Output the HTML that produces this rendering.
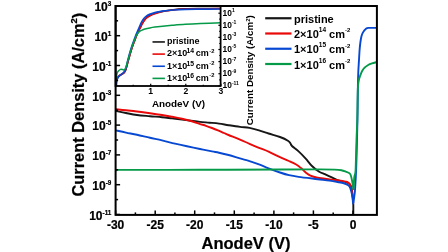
<!DOCTYPE html>
<html><head><meta charset="utf-8"><title>Current Density vs AnodeV</title>
<style>html,body{margin:0;padding:0;background:#fff;}body{width:448px;height:252px;overflow:hidden;}svg{display:block;}</style>
</head><body>
<svg width="448" height="252" viewBox="0 0 448 252" font-family='"Liberation Sans", Arial, sans-serif' fill="#000"><style>.b{stroke:#000;stroke-width:0.22px;}</style><rect x="0" y="0" width="448" height="252" fill="#fff"/>
<defs><clipPath id="cm"><rect x="115.6" y="6.0" width="261.29999999999995" height="208.9"/></clipPath><clipPath id="ci"><rect x="115.6" y="5.9" width="105.0" height="80.1"/></clipPath></defs>
<g clip-path="url(#cm)">
<path d="M116.00,110.90 C117.67,111.25 122.50,112.32 126.00,113.00 C129.50,113.68 133.00,114.47 137.00,115.00 C141.00,115.53 145.83,115.83 150.00,116.20 C154.17,116.57 158.33,116.83 162.00,117.20 C165.67,117.57 168.67,118.00 172.00,118.40 C175.33,118.80 178.83,119.20 182.00,119.60 C185.17,120.00 188.00,120.42 191.00,120.80 C194.00,121.18 196.92,121.58 200.00,121.90 C203.08,122.22 206.33,122.42 209.50,122.70 C212.67,122.98 215.82,123.18 219.00,123.60 C222.18,124.02 225.10,124.65 228.60,125.20 C232.10,125.75 236.52,126.45 240.00,126.90 C243.48,127.35 246.33,127.33 249.50,127.90 C252.67,128.47 255.82,129.37 259.00,130.30 C262.18,131.23 265.10,132.38 268.60,133.50 C272.10,134.62 276.78,135.80 280.00,137.00 C283.22,138.20 286.15,139.62 287.90,140.70 C289.65,141.78 289.82,142.62 290.50,143.50 C291.18,144.38 290.65,144.68 292.00,146.00 C293.35,147.32 296.32,149.30 298.60,151.40 C300.88,153.50 303.52,156.22 305.70,158.60 C307.88,160.98 309.52,163.55 311.70,165.70 C313.88,167.85 316.62,170.08 318.80,171.50 C320.98,172.92 323.02,173.38 324.80,174.20 C326.58,175.02 327.92,175.67 329.50,176.40 C331.08,177.13 332.72,177.88 334.30,178.60 C335.88,179.32 337.05,180.12 339.00,180.70 C340.95,181.28 344.25,181.55 346.00,182.10 C347.75,182.65 348.58,183.02 349.50,184.00 C350.42,184.98 350.95,185.83 351.50,188.00 C352.05,190.17 352.50,194.33 352.80,197.00 C353.10,199.67 353.22,200.50 353.30,204.00 C353.38,207.50 353.30,215.67 353.30,218.00" fill="none" stroke="#161616" stroke-width="1.9" stroke-linejoin="round" stroke-linecap="round"/>
<path d="M116.00,109.30 C117.67,109.47 122.50,109.93 126.00,110.30 C129.50,110.67 133.00,111.02 137.00,111.50 C141.00,111.98 145.83,112.62 150.00,113.20 C154.17,113.78 158.33,114.40 162.00,115.00 C165.67,115.60 168.67,116.17 172.00,116.80 C175.33,117.43 178.83,118.10 182.00,118.80 C185.17,119.50 188.08,120.17 191.00,121.00 C193.92,121.83 197.00,123.00 199.50,123.80 C202.00,124.60 203.92,125.10 206.00,125.80 C208.08,126.50 210.00,127.23 212.00,128.00 C214.00,128.77 216.00,129.57 218.00,130.40 C220.00,131.23 222.23,132.23 224.00,133.00 C225.77,133.77 225.93,133.90 228.60,135.00 C231.27,136.10 236.52,138.13 240.00,139.60 C243.48,141.07 246.33,142.43 249.50,143.80 C252.67,145.17 255.82,146.48 259.00,147.80 C262.18,149.12 265.10,150.13 268.60,151.70 C272.10,153.27 276.60,155.65 280.00,157.20 C283.40,158.75 286.30,159.78 289.00,161.00 C291.70,162.22 294.20,163.32 296.20,164.50 C298.20,165.68 299.42,166.78 301.00,168.10 C302.58,169.42 304.12,171.13 305.70,172.40 C307.28,173.67 308.52,174.80 310.50,175.70 C312.48,176.60 314.43,177.18 317.60,177.80 C320.77,178.42 325.93,178.95 329.50,179.40 C333.07,179.85 336.75,180.20 339.00,180.50 C341.25,180.80 341.65,180.95 343.00,181.20 C344.35,181.45 346.02,181.57 347.10,182.00 C348.18,182.43 348.80,182.80 349.50,183.80 C350.20,184.80 350.80,185.97 351.30,188.00 C351.80,190.03 352.18,193.50 352.50,196.00 C352.82,198.50 353.08,201.83 353.20,203.00" fill="none" stroke="#ea0808" stroke-width="1.9" stroke-linejoin="round" stroke-linecap="round"/>
<path d="M116.00,130.40 C117.67,130.77 122.50,131.87 126.00,132.60 C129.50,133.33 133.00,133.93 137.00,134.80 C141.00,135.67 145.83,136.87 150.00,137.80 C154.17,138.73 157.83,139.43 162.00,140.40 C166.17,141.37 170.83,142.62 175.00,143.60 C179.17,144.58 182.83,145.40 187.00,146.30 C191.17,147.20 195.83,148.15 200.00,149.00 C204.17,149.85 208.83,150.78 212.00,151.40 C215.17,152.02 216.23,152.10 219.00,152.70 C221.77,153.30 225.10,154.05 228.60,155.00 C232.10,155.95 236.52,157.38 240.00,158.40 C243.48,159.42 246.33,160.12 249.50,161.10 C252.67,162.08 255.82,163.10 259.00,164.30 C262.18,165.50 265.10,166.93 268.60,168.30 C272.10,169.67 276.60,171.35 280.00,172.50 C283.40,173.65 285.90,174.47 289.00,175.20 C292.10,175.93 293.83,176.23 298.60,176.90 C303.37,177.57 312.45,178.58 317.60,179.20 C322.75,179.82 325.93,180.10 329.50,180.60 C333.07,181.10 336.75,181.80 339.00,182.20 C341.25,182.60 341.65,182.60 343.00,183.00 C344.35,183.40 346.02,184.00 347.10,184.60 C348.18,185.20 348.80,185.47 349.50,186.60 C350.20,187.73 350.80,189.60 351.30,191.40 C351.80,193.20 352.18,195.38 352.50,197.40 C352.82,199.42 352.92,203.57 353.20,203.50 C353.48,203.43 353.92,199.02 354.20,197.00 C354.48,194.98 354.68,193.92 354.90,191.40 C355.12,188.88 355.28,185.80 355.50,181.90 C355.72,178.00 355.95,174.98 356.20,168.00 C356.45,161.02 356.77,149.67 357.00,140.00 C357.23,130.33 357.45,119.17 357.60,110.00 C357.75,100.83 357.78,91.33 357.90,85.00 C358.02,78.67 358.13,75.93 358.30,72.00 C358.47,68.07 358.68,65.07 358.90,61.40 C359.12,57.73 359.37,53.07 359.60,50.00 C359.83,46.93 360.00,45.25 360.30,43.00 C360.60,40.75 360.95,38.27 361.40,36.50 C361.85,34.73 362.27,33.67 363.00,32.40 C363.73,31.13 364.87,29.65 365.80,28.90 C366.73,28.15 366.73,28.07 368.60,27.90 C370.47,27.73 375.60,27.90 377.00,27.90" fill="none" stroke="#0748d2" stroke-width="1.9" stroke-linejoin="round" stroke-linecap="round"/>
<path d="M116.20,170.30 C116.50,170.23 104.03,169.98 118.00,169.90 C131.97,169.82 173.00,169.87 200.00,169.80 C227.00,169.73 260.00,169.57 280.00,169.50 C300.00,169.43 310.95,169.38 320.00,169.40 C329.05,169.42 330.73,169.47 334.30,169.60 C337.87,169.73 339.42,169.83 341.40,170.20 C343.38,170.57 344.93,171.33 346.20,171.80 C347.47,172.27 348.30,172.57 349.00,173.00 C349.70,173.43 350.02,173.72 350.40,174.40 C350.78,175.08 350.95,175.65 351.30,177.10 C351.65,178.55 352.17,181.12 352.50,183.10 C352.83,185.08 353.08,188.68 353.30,189.00 C353.52,189.32 353.63,186.98 353.80,185.00 C353.97,183.02 354.07,179.00 354.30,177.10 C354.53,175.20 354.97,175.12 355.20,173.60 C355.43,172.08 355.48,173.60 355.70,168.00 C355.92,162.40 356.23,148.00 356.50,140.00 C356.77,132.00 357.12,126.67 357.30,120.00 C357.48,113.33 357.50,105.33 357.60,100.00 C357.70,94.67 357.75,91.00 357.90,88.00 C358.05,85.00 358.28,83.58 358.50,82.00 C358.72,80.42 358.92,79.55 359.20,78.50 C359.48,77.45 359.73,76.90 360.20,75.70 C360.67,74.50 361.27,72.63 362.00,71.30 C362.73,69.97 363.57,68.75 364.60,67.70 C365.63,66.65 366.97,65.72 368.20,65.00 C369.43,64.28 370.53,63.90 372.00,63.40 C373.47,62.90 376.17,62.23 377.00,62.00" fill="none" stroke="#049a48" stroke-width="1.9" stroke-linejoin="round" stroke-linecap="round"/>
</g>
<rect x="115.6" y="5.9" width="105.0" height="80.1" fill="#fff"/>
<g clip-path="url(#ci)">
<path d="M116.50,86.00 C116.50,85.50 116.38,84.17 116.50,83.00 C116.62,81.83 116.82,80.08 117.20,79.00 C117.58,77.92 118.05,77.25 118.80,76.50 C119.55,75.75 120.78,75.15 121.70,74.50 C122.62,73.85 123.63,73.35 124.30,72.60 C124.97,71.85 125.30,71.02 125.70,70.00 C126.10,68.98 126.37,67.72 126.70,66.50 C127.03,65.28 127.37,63.95 127.70,62.70 C128.03,61.45 128.03,61.32 128.70,59.00 C129.37,56.68 130.70,51.90 131.70,48.80 C132.70,45.70 133.82,42.80 134.70,40.40 C135.58,38.00 136.27,36.13 137.00,34.40 C137.73,32.67 138.47,31.30 139.10,30.00 C139.73,28.70 140.25,27.70 140.80,26.60 C141.35,25.50 141.80,24.47 142.40,23.40 C143.00,22.33 143.65,21.20 144.40,20.20 C145.15,19.20 145.82,18.27 146.90,17.40 C147.98,16.53 149.57,15.68 150.90,15.00 C152.23,14.32 153.42,13.80 154.90,13.30 C156.38,12.80 158.12,12.40 159.80,12.00 C161.48,11.60 162.77,11.28 165.00,10.90 C167.23,10.52 169.82,10.05 173.20,9.70 C176.58,9.35 180.83,9.00 185.30,8.80 C189.77,8.60 194.05,8.57 200.00,8.50 C205.95,8.43 217.50,8.42 221.00,8.40" fill="none" stroke="#161616" stroke-width="1.5" stroke-linejoin="round" stroke-linecap="round"/>
<path d="M116.30,84.50 C116.30,83.83 116.08,81.72 116.30,80.50 C116.52,79.28 117.05,78.07 117.60,77.20 C118.15,76.33 118.77,75.87 119.60,75.30 C120.43,74.73 121.78,74.32 122.60,73.80 C123.42,73.28 123.97,72.87 124.50,72.20 C125.03,71.53 125.42,70.77 125.80,69.80 C126.18,68.83 126.47,67.60 126.80,66.40 C127.13,65.20 127.47,63.83 127.80,62.60 C128.13,61.37 128.13,61.30 128.80,59.00 C129.47,56.70 130.80,51.90 131.80,48.80 C132.80,45.70 133.92,42.80 134.80,40.40 C135.68,38.00 136.37,36.13 137.10,34.40 C137.83,32.67 138.57,31.30 139.20,30.00 C139.83,28.70 140.35,27.70 140.90,26.60 C141.45,25.50 141.90,24.47 142.50,23.40 C143.10,22.33 143.75,21.17 144.50,20.20 C145.25,19.23 145.93,18.42 147.00,17.60 C148.07,16.78 149.58,15.95 150.90,15.30 C152.22,14.65 153.42,14.22 154.90,13.70 C156.38,13.18 158.12,12.63 159.80,12.20 C161.48,11.77 162.77,11.48 165.00,11.10 C167.23,10.72 169.82,10.25 173.20,9.90 C176.58,9.55 180.83,9.20 185.30,9.00 C189.77,8.80 194.05,8.77 200.00,8.70 C205.95,8.63 217.50,8.62 221.00,8.60" fill="none" stroke="#ea0808" stroke-width="1.5" stroke-linejoin="round" stroke-linecap="round"/>
<path d="M116.30,84.50 C116.33,83.95 116.25,82.32 116.50,81.20 C116.75,80.08 117.22,78.80 117.80,77.80 C118.38,76.80 119.20,75.93 120.00,75.20 C120.80,74.47 121.87,74.00 122.60,73.40 C123.33,72.80 123.90,72.30 124.40,71.60 C124.90,70.90 125.25,70.13 125.60,69.20 C125.95,68.27 126.20,67.17 126.50,66.00 C126.80,64.83 127.12,63.40 127.40,62.20 C127.68,61.00 127.58,61.07 128.20,58.80 C128.82,56.53 130.13,51.70 131.10,48.60 C132.07,45.50 133.13,42.63 134.00,40.20 C134.87,37.77 135.58,35.78 136.30,34.00 C137.02,32.22 137.72,30.83 138.30,29.50 C138.88,28.17 139.30,27.15 139.80,26.00 C140.30,24.85 140.72,23.73 141.30,22.60 C141.88,21.47 142.55,20.20 143.30,19.20 C144.05,18.20 144.77,17.40 145.80,16.60 C146.83,15.80 147.98,15.07 149.50,14.40 C151.02,13.73 153.18,13.07 154.90,12.60 C156.62,12.13 158.12,11.88 159.80,11.60 C161.48,11.32 162.77,11.17 165.00,10.90 C167.23,10.63 169.82,10.27 173.20,10.00 C176.58,9.73 180.83,9.45 185.30,9.30 C189.77,9.15 194.05,9.15 200.00,9.10 C205.95,9.05 217.50,9.02 221.00,9.00" fill="none" stroke="#0748d2" stroke-width="1.7" stroke-linejoin="round" stroke-linecap="round"/>
<path d="M116.40,77.50 C116.50,76.83 116.67,74.58 117.00,73.50 C117.33,72.42 117.80,71.68 118.40,71.00 C119.00,70.32 119.90,69.63 120.60,69.40 C121.30,69.17 122.07,69.52 122.60,69.60 C123.13,69.68 123.40,69.97 123.80,69.90 C124.20,69.83 124.60,69.82 125.00,69.20 C125.40,68.58 125.78,67.47 126.20,66.20 C126.62,64.93 127.12,62.93 127.50,61.60 C127.88,60.27 127.83,60.43 128.50,58.20 C129.17,55.97 130.50,51.25 131.50,48.20 C132.50,45.15 133.60,42.17 134.50,39.90 C135.40,37.63 136.10,35.98 136.90,34.60 C137.70,33.22 138.32,32.40 139.30,31.60 C140.28,30.80 141.85,30.23 142.80,29.80 C143.75,29.37 143.82,29.32 145.00,29.00 C146.18,28.68 148.25,28.22 149.90,27.90 C151.55,27.58 152.38,27.43 154.90,27.10 C157.42,26.77 162.15,26.20 165.00,25.90 C167.85,25.60 168.62,25.57 172.00,25.30 C175.38,25.03 180.55,24.60 185.30,24.30 C190.05,24.00 194.55,23.77 200.50,23.50 C206.45,23.23 217.58,22.83 221.00,22.70" fill="none" stroke="#049a48" stroke-width="1.5" stroke-linejoin="round" stroke-linecap="round"/>
</g>
<rect x="115.6" y="6.0" width="261.29999999999995" height="208.9" fill="none" stroke="#000" stroke-width="2"/>
<line x1="115.6" y1="214.9" x2="115.6" y2="210.4" stroke="#000" stroke-width="1.5"/>
<line x1="135.4" y1="214.9" x2="135.4" y2="212.4" stroke="#000" stroke-width="1.5"/>
<line x1="155.2" y1="214.9" x2="155.2" y2="210.4" stroke="#000" stroke-width="1.5"/>
<line x1="174.9" y1="214.9" x2="174.9" y2="212.4" stroke="#000" stroke-width="1.5"/>
<line x1="194.7" y1="214.9" x2="194.7" y2="210.4" stroke="#000" stroke-width="1.5"/>
<line x1="214.5" y1="214.9" x2="214.5" y2="212.4" stroke="#000" stroke-width="1.5"/>
<line x1="234.3" y1="214.9" x2="234.3" y2="210.4" stroke="#000" stroke-width="1.5"/>
<line x1="254.1" y1="214.9" x2="254.1" y2="212.4" stroke="#000" stroke-width="1.5"/>
<line x1="273.9" y1="214.9" x2="273.9" y2="210.4" stroke="#000" stroke-width="1.5"/>
<line x1="293.6" y1="214.9" x2="293.6" y2="212.4" stroke="#000" stroke-width="1.5"/>
<line x1="313.4" y1="214.9" x2="313.4" y2="210.4" stroke="#000" stroke-width="1.5"/>
<line x1="333.2" y1="214.9" x2="333.2" y2="212.4" stroke="#000" stroke-width="1.5"/>
<line x1="353.0" y1="214.9" x2="353.0" y2="210.4" stroke="#000" stroke-width="1.5"/>
<line x1="115.6" y1="5.9" x2="120.1" y2="5.9" stroke="#000" stroke-width="1.5"/>
<line x1="115.6" y1="20.8" x2="118.1" y2="20.8" stroke="#000" stroke-width="1.5"/>
<line x1="115.6" y1="35.7" x2="120.1" y2="35.7" stroke="#000" stroke-width="1.5"/>
<line x1="115.6" y1="50.6" x2="118.1" y2="50.6" stroke="#000" stroke-width="1.5"/>
<line x1="115.6" y1="65.5" x2="120.1" y2="65.5" stroke="#000" stroke-width="1.5"/>
<line x1="115.6" y1="80.4" x2="118.1" y2="80.4" stroke="#000" stroke-width="1.5"/>
<line x1="115.6" y1="95.3" x2="120.1" y2="95.3" stroke="#000" stroke-width="1.5"/>
<line x1="115.6" y1="110.2" x2="118.1" y2="110.2" stroke="#000" stroke-width="1.5"/>
<line x1="115.6" y1="125.1" x2="120.1" y2="125.1" stroke="#000" stroke-width="1.5"/>
<line x1="115.6" y1="140.0" x2="118.1" y2="140.0" stroke="#000" stroke-width="1.5"/>
<line x1="115.6" y1="154.9" x2="120.1" y2="154.9" stroke="#000" stroke-width="1.5"/>
<line x1="115.6" y1="169.8" x2="118.1" y2="169.8" stroke="#000" stroke-width="1.5"/>
<line x1="115.6" y1="184.7" x2="120.1" y2="184.7" stroke="#000" stroke-width="1.5"/>
<line x1="115.6" y1="199.6" x2="118.1" y2="199.6" stroke="#000" stroke-width="1.5"/>
<line x1="115.6" y1="214.5" x2="120.1" y2="214.5" stroke="#000" stroke-width="1.5"/>
<rect x="115.6" y="5.9" width="105.0" height="80.1" fill="none" stroke="#000" stroke-width="1.8"/>
<line x1="115.6" y1="86.0" x2="115.6" y2="83.8" stroke="#000" stroke-width="1.2"/>
<line x1="133.2" y1="86.0" x2="133.2" y2="84.7" stroke="#000" stroke-width="1.2"/>
<line x1="150.7" y1="86.0" x2="150.7" y2="83.8" stroke="#000" stroke-width="1.2"/>
<line x1="168.2" y1="86.0" x2="168.2" y2="84.7" stroke="#000" stroke-width="1.2"/>
<line x1="185.8" y1="86.0" x2="185.8" y2="83.8" stroke="#000" stroke-width="1.2"/>
<line x1="203.3" y1="86.0" x2="203.3" y2="84.7" stroke="#000" stroke-width="1.2"/>
<line x1="220.9" y1="86.0" x2="220.9" y2="83.8" stroke="#000" stroke-width="1.2"/>
<line x1="220.6" y1="13.2" x2="218.4" y2="13.2" stroke="#000" stroke-width="1.2"/>
<line x1="220.6" y1="19.2" x2="219.29999999999998" y2="19.2" stroke="#000" stroke-width="1.2"/>
<line x1="220.6" y1="25.3" x2="218.4" y2="25.3" stroke="#000" stroke-width="1.2"/>
<line x1="220.6" y1="31.3" x2="219.29999999999998" y2="31.3" stroke="#000" stroke-width="1.2"/>
<line x1="220.6" y1="37.4" x2="218.4" y2="37.4" stroke="#000" stroke-width="1.2"/>
<line x1="220.6" y1="43.5" x2="219.29999999999998" y2="43.5" stroke="#000" stroke-width="1.2"/>
<line x1="220.6" y1="49.5" x2="218.4" y2="49.5" stroke="#000" stroke-width="1.2"/>
<line x1="220.6" y1="55.5" x2="219.29999999999998" y2="55.5" stroke="#000" stroke-width="1.2"/>
<line x1="220.6" y1="61.6" x2="218.4" y2="61.6" stroke="#000" stroke-width="1.2"/>
<line x1="220.6" y1="67.6" x2="219.29999999999998" y2="67.6" stroke="#000" stroke-width="1.2"/>
<line x1="220.6" y1="73.7" x2="218.4" y2="73.7" stroke="#000" stroke-width="1.2"/>
<line x1="220.6" y1="79.8" x2="219.29999999999998" y2="79.8" stroke="#000" stroke-width="1.2"/>
<line x1="220.6" y1="85.8" x2="218.4" y2="85.8" stroke="#000" stroke-width="1.2"/>
<text class="b" x="111.3" y="11.2" text-anchor="end" font-size="12" font-weight="bold">10<tspan font-size="6.3" dy="-5.3">3</tspan></text>
<text class="b" x="111.3" y="41.0" text-anchor="end" font-size="12" font-weight="bold">10<tspan font-size="6.3" dy="-5.3">1</tspan></text>
<text class="b" x="111.3" y="70.8" text-anchor="end" font-size="12" font-weight="bold">10<tspan font-size="6.3" dy="-5.3">-1</tspan></text>
<text class="b" x="111.3" y="100.6" text-anchor="end" font-size="12" font-weight="bold">10<tspan font-size="6.3" dy="-5.3">-3</tspan></text>
<text class="b" x="111.3" y="130.4" text-anchor="end" font-size="12" font-weight="bold">10<tspan font-size="6.3" dy="-5.3">-5</tspan></text>
<text class="b" x="111.3" y="160.2" text-anchor="end" font-size="12" font-weight="bold">10<tspan font-size="6.3" dy="-5.3">-7</tspan></text>
<text class="b" x="111.3" y="190.0" text-anchor="end" font-size="12" font-weight="bold">10<tspan font-size="6.3" dy="-5.3">-9</tspan></text>
<text class="b" x="111.3" y="219.8" text-anchor="end" font-size="12" font-weight="bold">10<tspan font-size="6.3" dy="-5.3">-11</tspan></text>
<text class="b" x="115.6" y="228.8" text-anchor="middle" font-size="12" font-weight="bold">-30</text>
<text class="b" x="155.2" y="228.8" text-anchor="middle" font-size="12" font-weight="bold">-25</text>
<text class="b" x="194.7" y="228.8" text-anchor="middle" font-size="12" font-weight="bold">-20</text>
<text class="b" x="234.3" y="228.8" text-anchor="middle" font-size="12" font-weight="bold">-15</text>
<text class="b" x="273.9" y="228.8" text-anchor="middle" font-size="12" font-weight="bold">-10</text>
<text class="b" x="313.4" y="228.8" text-anchor="middle" font-size="12" font-weight="bold">-5</text>
<text class="b" x="353.0" y="228.8" text-anchor="middle" font-size="12" font-weight="bold">0</text>
<text class="b" x="246" y="249.3" text-anchor="middle" font-size="16.5" font-weight="bold">AnodeV (V)</text>
<text class="b" transform="translate(84.3,104.6) rotate(-90)" text-anchor="middle" font-size="16.4" font-weight="bold">Current Density (A/cm<tspan font-size="9.5" dy="-7">2</tspan><tspan dy="7">)</tspan></text>
<text x="222.6" y="15.7" font-size="8.4" font-weight="bold">10<tspan font-size="5" dy="-3.6">1</tspan></text>
<text x="222.6" y="27.8" font-size="8.4" font-weight="bold">10<tspan font-size="5" dy="-3.6">-1</tspan></text>
<text x="222.6" y="39.9" font-size="8.4" font-weight="bold">10<tspan font-size="5" dy="-3.6">-3</tspan></text>
<text x="222.6" y="52.0" font-size="8.4" font-weight="bold">10<tspan font-size="5" dy="-3.6">-5</tspan></text>
<text x="222.6" y="64.1" font-size="8.4" font-weight="bold">10<tspan font-size="5" dy="-3.6">-7</tspan></text>
<text x="222.6" y="76.2" font-size="8.4" font-weight="bold">10<tspan font-size="5" dy="-3.6">-9</tspan></text>
<text x="222.6" y="88.3" font-size="8.4" font-weight="bold">10<tspan font-size="5" dy="-3.6">-11</tspan></text>
<text x="150.7" y="94.1" text-anchor="middle" font-size="8.6" font-weight="bold">1</text>
<text x="185.8" y="94.1" text-anchor="middle" font-size="8.6" font-weight="bold">2</text>
<text x="220.9" y="94.1" text-anchor="middle" font-size="8.6" font-weight="bold">3</text>
<text x="178.5" y="107.2" text-anchor="middle" font-size="9.9" font-weight="bold">AnodeV (V)</text>
<text transform="translate(253.4,70.2) rotate(-90)" text-anchor="middle" font-size="9.8" font-weight="bold">Current Density (A/cm<tspan font-size="6" dy="-3.5">2</tspan><tspan dy="3.5">)</tspan></text>
<line x1="152.5" y1="41.95" x2="164.9" y2="41.95" stroke="#161616" stroke-width="1.6"/>
<text x="166.9" y="44.25" font-size="9" font-weight="bold">pristine</text>
<line x1="152.5" y1="54.10" x2="164.9" y2="54.10" stroke="#ea0808" stroke-width="1.6"/>
<text x="166.9" y="56.40" font-size="9" font-weight="bold">2×10<tspan font-size="6.8" dx="-0.6" dy="-3.0">14</tspan><tspan dx="-0.8" dy="3.0"> cm</tspan><tspan font-size="5.8" dx="0.4" dy="-3.5">-2</tspan></text>
<line x1="152.5" y1="66.25" x2="164.9" y2="66.25" stroke="#0748d2" stroke-width="1.6"/>
<text x="166.9" y="68.55" font-size="9" font-weight="bold">1×10<tspan font-size="6.8" dx="-0.6" dy="-3.0">15</tspan><tspan dx="-0.8" dy="3.0"> cm</tspan><tspan font-size="5.8" dx="0.4" dy="-3.5">-2</tspan></text>
<line x1="152.5" y1="78.40" x2="164.9" y2="78.40" stroke="#049a48" stroke-width="1.6"/>
<text x="166.9" y="80.70" font-size="9" font-weight="bold">1×10<tspan font-size="6.8" dx="-0.6" dy="-3.0">16</tspan><tspan dx="-0.8" dy="3.0"> cm</tspan><tspan font-size="5.8" dx="0.4" dy="-3.5">-2</tspan></text>
<line x1="265.2" y1="18.25" x2="291.5" y2="18.25" stroke="#161616" stroke-width="2.2"/>
<text x="294" y="22.85" font-size="11" font-weight="bold">pristine</text>
<line x1="265.2" y1="33.50" x2="291.5" y2="33.50" stroke="#ea0808" stroke-width="2.2"/>
<text x="294" y="38.10" font-size="11" font-weight="bold">2×10<tspan font-size="6.5" dy="-6.1">14</tspan><tspan dy="6.1"> cm</tspan><tspan font-size="6" dy="-5.7">-2</tspan></text>
<line x1="265.2" y1="48.75" x2="291.5" y2="48.75" stroke="#0748d2" stroke-width="2.2"/>
<text x="294" y="53.35" font-size="11" font-weight="bold">1×10<tspan font-size="6.5" dy="-6.1">15</tspan><tspan dy="6.1"> cm</tspan><tspan font-size="6" dy="-5.7">-2</tspan></text>
<line x1="265.2" y1="64.00" x2="291.5" y2="64.00" stroke="#049a48" stroke-width="2.2"/>
<text x="294" y="68.60" font-size="11" font-weight="bold">1×10<tspan font-size="6.5" dy="-6.1">16</tspan><tspan dy="6.1"> cm</tspan><tspan font-size="6" dy="-5.7">-2</tspan></text></svg>
</body></html>
